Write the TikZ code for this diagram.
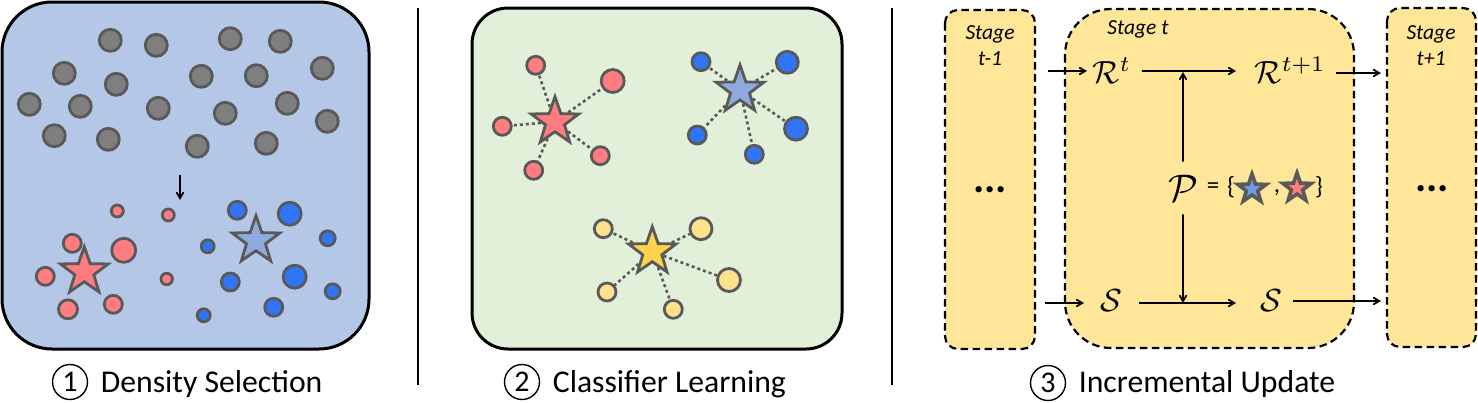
\documentclass[tikz,border=0pt]{standalone}
\usepackage{amsmath}
\usepackage{fontspec}
\setmainfont{Carlito}
\usepackage{tikz}
\usetikzlibrary{arrows,shapes.geometric,positioning}
\definecolor{panelblue}{HTML}{B4C7E7}
\definecolor{panelgreen}{HTML}{E2F0D9}
\definecolor{panelyellow}{HTML}{FFE699}
\definecolor{edgegray}{HTML}{595959}
\definecolor{dotgray}{HTML}{7F7F7F}
\definecolor{dotred}{HTML}{FF7C80}
\definecolor{dotblue}{HTML}{2F75F5}
\definecolor{dotyellow}{HTML}{FFE08C}
\definecolor{starblue}{HTML}{8FAADC}
\definecolor{staryellow}{HTML}{FFD24D}

\begin{document}
\begin{tikzpicture}[x=1pt,y=-1pt,>=angle 60,line width=1.7pt]
\tikzstyle{panel}=[draw=black,line width=3pt]
\tikzstyle{dot}=[shape=circle,draw=edgegray,line width=2.8pt,inner sep=0pt]
\tikzstyle{bigstar}=[shape=star,star points=5,star point ratio=2.5,draw=edgegray,line width=2.8pt,inner sep=0pt,minimum size=50pt]
\tikzstyle{smallstar}=[bigstar,line width=3.6pt,minimum size=30pt]
\tikzstyle{link}=[draw=edgegray,line width=2.6pt,dash pattern=on 3pt off 3pt]
\tikzstyle{stagebox}=[draw=black,fill=panelyellow,line width=2.2pt,dash pattern=on 7.5pt off 4.5pt]
\tikzstyle{stagetext}=[font=\fontsize{21.5}{26}\selectfont\itshape,align=center,inner sep=0pt]
\tikzstyle{sym}=[inner sep=0pt,scale=3.2]
\tikzstyle{ell}=[inner sep=0pt,font=\fontsize{42}{42}\selectfont]
\tikzstyle{num}=[shape=circle,draw=black,line width=1.4pt,inner sep=0pt,minimum size=35pt,font=\fontsize{30}{30}\selectfont]
\tikzstyle{caption}=[inner sep=0pt,font=\fontsize{31.7}{32}\selectfont]
\tikzstyle{eqtext}=[inner sep=0pt,font=\fontsize{25}{25}\selectfont]
\useasboundingbox (0,0) rectangle (1478,402);

% panels
\draw[panel,fill=panelblue,rounded corners=50pt] (2,2) rectangle (369,349);
\draw[panel,fill=panelgreen,rounded corners=36pt] (472,8) rectangle (842,349);
\draw[stagebox,rounded corners=13pt] (945,10) rectangle (1035,349);
\draw[stagebox,rounded corners=46pt] (1065,9) rectangle (1354,348);
\draw[stagebox,rounded corners=13pt] (1387,8) rectangle (1476,347);

% separators
\coordinate (sepa) at (418,8);
\coordinate (sepb) at (418,385);
\coordinate (sepc) at (892,8);
\coordinate (sepd) at (892,385);
\draw[line width=2.5pt] (sepa) -- (sepb);
\draw[line width=2.5pt] (sepc) -- (sepd);

% density selection
\foreach \x/\y [count=\i] in {110.3/40.3,156.3/45.3,230.3/38.7,280.3/41.3,64.3/73.3,116.3/84.3,201.3/76.3,256.3/75.7,322.3/68.3,29.3/104.3,80.3/106.3,158.3/108.3,225.3/113.3,287.3/103.3,327.3/121.3,54.3/135.7,108.3/139.3,197.3/146.3,266.3/143.3}
	\node[dot,fill=dotgray,minimum size=22pt] (g\i) at (\x,\y) {};
\foreach \x/\y/\d [count=\i] in {117.3/211/12,168.3/215/12,166.7/279/11.5,72.3/243.3/18,123.7/250.3/24,45.3/276.3/18,68/309.3/19,113.3/304.3/18}
	\node[dot,fill=dotred,minimum size=\d pt] (r\i) at (\x,\y) {};
\foreach \x/\y/\d [count=\i] in {237.3/210.3/18,289.7/213.7/23,327.7/238.3/15,207.7/246.3/13,230.3/282/18,294.7/276.7/23,332.7/291.3/15,273.7/307.3/18,203.7/315.3/13}
	\node[dot,fill=dotblue,minimum size=\d pt] (b\i) at (\x,\y) {};
\node[bigstar,fill=dotred] (rs) at (84.3,271.7) {};
\node[bigstar,fill=starblue] (bs) at (256,240.7) {};
\coordinate (da) at (180,175);
\coordinate (db) at (180,200);
\draw[->] (da) -- (db);

% classifier learning
\node[bigstar,fill=dotred] (crs) at (555,121.7) {};
\node[bigstar,fill=starblue] (cbs) at (740,90) {};
\node[bigstar,fill=staryellow] (cys) at (652.3,251.7) {};
\foreach \x/\y/\d [count=\i] in {535.7/65.3/18,612.7/81/23,502.3/126.3/18,600.3/155.7/18,533.7/170.3/18}{
	\node[dot,fill=dotred,minimum size=\d pt] (cr\i) at (\x,\y) {};
	\draw[link] (crs) -- (cr\i);
}
\foreach \x/\y/\d [count=\i] in {701/61.7/18,787.3/62.3/22,796/128.7/23,697.3/135/18,754.3/154.3/18}{
	\node[dot,fill=dotblue,minimum size=\d pt] (cb\i) at (\x,\y) {};
	\draw[link] (cbs) -- (cb\i);
}
\foreach \x/\y/\d [count=\i] in {603.3/228.7/18,701/228.7/22,729/280/23,607/292/18,673.3/309.3/18}{
	\node[dot,fill=dotyellow,minimum size=\d pt] (cy\i) at (\x,\y) {};
	\draw[link] (cys) -- (cy\i);
}

% incremental update
\node[stagetext] (sa) at (990,46) {Stage\\t-1};
\node[stagetext] (sb) at (1138,29) {Stage t};
\node[stagetext] (sc) at (1431,46) {Stage\\t+1};
\node[ell] (da1) at (990,190) {\textbf{...}};
\node[ell] (da2) at (1432,189) {\textbf{...}};
\node[sym,anchor=west] (Rt) at (1090,71) [text height=7.5pt,text depth=0pt] {$\mathcal{R}^{t}$};
\node[sym,anchor=west] (Rn) at (1252,71) [text height=7.5pt,text depth=0pt] {$\mathcal{R}^{t+1}$};
\node[sym,anchor=west] (Sa) at (1098,303) [text height=5.6pt,text depth=0pt] {$\mathcal{S}$};
\node[sym,anchor=west] (Sb) at (1258,303) [text height=5.6pt,text depth=0pt] {$\mathcal{S}$};
\node[sym,scale=1.2] (P) at (1183,188) {$\mathcal{P}$};
\node[eqtext] (eq) at (1213,188) {=};
\node[eqtext] (la) at (1231,187) {\{};
\node[smallstar,fill=starblue!70!dotblue] (ps) at (1252,189) {};
\node[eqtext] (cm) at (1277,193) {,};
\node[smallstar,fill=dotred] (qs) at (1297,188) {};
\node[eqtext] (rb) at (1319,187) {\}};
\coordinate (ra) at (1048,71);
\coordinate (rc) at (1381,73);
\coordinate (sd) at (1045,303);
\coordinate (sc1) at (1381,301);
\coordinate (pu) at (1183,72);
\coordinate (pd) at (1183,303);
\draw[->,shorten >=3pt] (ra) -- (Rt);
\draw[->,shorten <=8pt,shorten >=16pt] (Rt) -- (Rn);
\draw[->,shorten <=8pt] (Rn.east |- rc) -- (rc);
\draw[->,shorten >=14pt] (sd) -- (Sa);
\draw[->,shorten <=14pt,shorten >=22pt] (Sa) -- (Sb);
\draw[->,shorten <=8pt] (Sb.east |- sc1) -- (sc1);
\draw[->,shorten <=10pt] (P) -- (pu);
\draw[->,shorten <=10pt] (P) -- (pd);

% captions
\node[num] (n1) at (70,382) {1};
\node[caption,anchor=west] (c1) at (100,384) {Density Selection};
\node[num] (n2) at (522,382) {2};
\node[caption,anchor=west] (c2) at (552,384) {Classifier Learning};
\node[num] (n3) at (1048,383) {3};
\node[caption,anchor=west] (c3) at (1078,384) {Incremental Update};
\end{tikzpicture}
\end{document}
